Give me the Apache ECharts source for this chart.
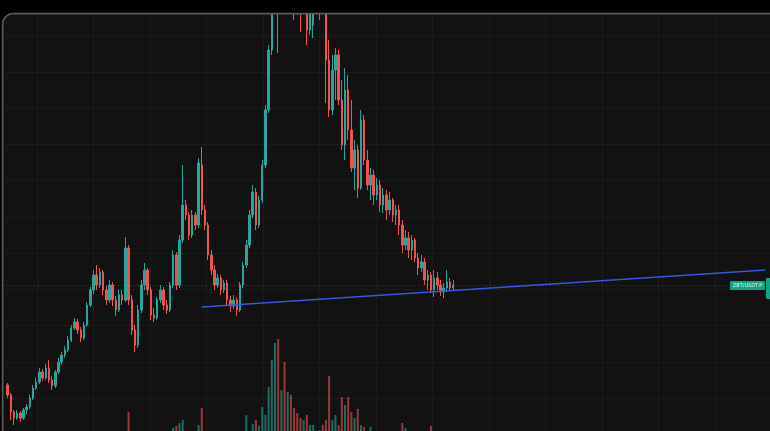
<!DOCTYPE html>
<html>
<head>
<meta charset="utf-8">
<script src="https://cdn.jsdelivr.net/npm/echarts@6/dist/echarts.min.js"></script>
<style>
html,body{margin:0;padding:0;background:#000;}
#chart{width:770px;height:431px;}
</style>
</head>
<body>
<div id="chart"></div>
<script>
// ---- data ----
// candle rows: [open, close, low, high]
const candles = [
[46,36,33,48],[36,19,11,38],[19,13,6,21],[13,18,11,21],[18,13,9,20],
[13,21,11,23],[21,24,17,27],[24,33,22,36],[33,43,31,46],[43,49,41,53],
[49,59,47,63],[59,53,50,62],[53,63,51,67],[63,51,48,71],[51,45,41,55],
[45,59,43,61],[59,69,57,73],[69,76,66,79],[76,81,73,85],[81,91,79,95],
[91,103,89,106],[103,109,101,113],[109,101,97,112],[101,93,89,104],[93,106,91,109],
[106,126,104,129],[126,141,124,144],[141,156,137,161],[156,146,141,166],[146,159,143,163],
[159,141,136,161],[141,131,126,145],[131,146,128,151],[146,131,125,149],[131,121,115,135],
[121,136,119,141],[136,131,126,141],[131,183,129,194],[183,131,126,186],[131,101,96,136],
[101,86,79,106],[86,121,83,126],[121,146,118,151],[146,161,141,168],[161,141,136,163],
[141,116,111,144],[116,113,109,123],[113,131,111,134],[131,141,128,146],[141,126,121,144],
[126,121,117,131],[121,146,119,149],[146,176,143,181],[176,146,141,179],[146,191,143,196],
[191,226,188,266],[226,216,211,231],[216,196,191,219],[196,216,193,221],[216,206,201,219],
[206,268,203,273],[266,221,216,284],[221,206,201,226],[206,176,171,209],[176,161,156,181],
[161,146,141,166],[146,153,143,157],[153,141,136,156],[141,148,138,151],[148,131,126,151],
[131,125,119,135],[125,131,122,136],[131,121,115,134],[121,146,119,149],[146,166,143,169],
[166,186,163,191],[186,216,183,221],[216,239,213,246],[239,206,201,243],[206,231,203,235],
[231,266,228,271],[266,321,263,326],[321,381,318,386],[381,441,376,461],[441,471,436,491],
[471,451,378,491],[451,481,446,501],[481,461,456,511],[461,491,456,521],[491,471,461,516],
[471,451,411,491],[451,441,416,471],[441,426,399,461],[426,461,421,481],[461,401,386,471],
[401,441,396,461],[406,461,393,481],[461,441,421,481],[441,471,411,491],[471,451,426,491],
[451,371,328,461],[371,321,314,391],[321,361,316,376],[361,376,331,383],[376,331,326,381],
[331,286,281,351],[286,341,271,363],[341,301,291,356],[301,263,259,331],[263,281,241,291],
[281,243,233,286],[243,311,241,321],[311,271,266,316],[271,246,241,281],[246,256,231,263],
[256,236,226,261],[236,246,231,253],[246,226,219,251],[226,236,218,243],[236,221,211,241],
[221,231,216,239],[231,216,209,233],[216,221,206,226],[221,206,196,226],[206,186,178,211],
[186,193,181,201],[193,181,173,199],[181,191,171,196],[191,173,169,193],[173,163,156,178],
[163,169,159,176],[169,151,146,173],[151,156,141,161],[156,141,138,159],[141,153,134,161],
[153,146,141,159],[146,139,135,151],[139,143,133,148],[143,149,139,161],[149,143,140,153],
[143,146,141,151]
];
const volumes = [
14,16,12,9,8,10,9,11,12,10,13,9,11,14,10,12,11,9,10,12,
14,11,10,12,11,15,14,16,13,12,14,11,10,12,13,11,12,17,38,16,
15,14,13,15,12,14,11,10,12,13,11,14,22,24,27,30,17,15,13,14,
25,42,18,16,15,13,12,14,12,13,14,12,16,15,17,35,18,26,30,24,
43,35,63,90,107,111,60,88,58,55,42,37,32,30,35,25,25,18,20,25,
30,74,30,35,25,53,45,53,38,32,41,25,23,17,23,16,15,14,13,14,
12,13,15,16,27,22,15,14,13,12,11,14,12,24,13,11,12,10,12,9,10
];
const slotCount = 240;
const categories = [];
for (let i = 0; i < slotCount; i++) categories.push('D' + (i + 1));
const trendLine = [[61, 124], [238, 161]];
const symbolLabel = 'ZBT/USDT.P';

const UP = '#26a69a', DOWN = '#ef5350';
const volData = volumes.map((v, i) => ({
  value: v,
  itemStyle: { color: candles[i][1] >= candles[i][0] ? 'rgba(38,166,154,0.62)' : 'rgba(239,83,80,0.62)' }
}));
const lastClose = candles[candles.length - 1][1];
const GRID_COLOR = '#1b1b1b';

const chart = echarts.init(document.getElementById('chart'), null, { renderer: 'canvas' });
chart.setOption({
  backgroundColor: '#000',
  animation: false,
  graphic: [
    { type: 'rect', z: -100, silent: true,
      shape: { x: 2.5, y: 13.5, width: 840, height: 480, r: 11 },
      style: { fill: '#121212', stroke: '#5c5c5c', lineWidth: 1.5 } },
    // mask above the panel and redraw top border over clipped candles
    { type: 'rect', z: 200, silent: true,
      shape: { x: 0, y: 0, width: 770, height: 13 },
      style: { fill: '#000' } },
    { type: 'rect', z: 200, silent: true,
      shape: { x: 0, y: 0, width: 2, height: 431 },
      style: { fill: '#000' } },
    { type: 'line', z: 201, silent: true,
      shape: { x1: 13, y1: 13.5, x2: 770, y2: 13.5 },
      style: { stroke: '#5c5c5c', lineWidth: 1.5 } },
    { type: 'line', z: 201, silent: true,
      shape: { x1: 2.5, y1: 24, x2: 2.5, y2: 431 },
      style: { stroke: '#5c5c5c', lineWidth: 1.5 } },
    { type: 'rect', z: 100, silent: true,
      shape: { x: 730, y: 281, width: 35, height: 9, r: 1 },
      style: { fill: '#13a386' } },
    { type: 'text', z: 101, silent: true, x: 747.5, y: 285.5,
      style: { text: symbolLabel, fill: '#e6fff7', font: '5px "DejaVu Sans"', align: 'center', verticalAlign: 'middle' } },
    { type: 'rect', z: 100, silent: true,
      shape: { x: 766, y: 278, width: 12, height: 21, r: 1 },
      style: { fill: '#13a386' } }
  ],
  grid: [
    { left: 6, right: 0, top: 14, height: 417 },
    { left: 6, right: 0, top: 330, height: 101 },
    { left: -19.5, width: 791, top: -0.475, height: 434.7, outerBoundsMode: 'none' }
  ],
  xAxis: [
    { type: 'category', gridIndex: 0, data: categories, boundaryGap: true,
      axisLine: { show: false }, axisTick: { show: false }, axisLabel: { show: false },
      splitLine: { show: false } },
    { type: 'category', gridIndex: 1, data: categories, boundaryGap: true,
      axisLine: { show: false }, axisTick: { show: false }, axisLabel: { show: false },
      splitLine: { show: false } },
    { type: 'value', gridIndex: 2, min: 0, max: 14, interval: 1,
      axisLine: { show: false }, axisTick: { show: false }, axisLabel: { show: false },
      splitLine: { show: true, lineStyle: { color: GRID_COLOR, width: 1 } } }
  ],
  yAxis: [
    { type: 'value', gridIndex: 0, min: 0, max: 417,
      axisLine: { show: false }, axisTick: { show: false }, axisLabel: { show: false },
      splitLine: { show: false } },
    { type: 'value', gridIndex: 1, min: 19, max: 120,
      axisLine: { show: false }, axisTick: { show: false }, axisLabel: { show: false },
      splitLine: { show: false } },
    { type: 'value', gridIndex: 2, min: 0, max: 12, interval: 1,
      axisLine: { show: false }, axisTick: { show: false }, axisLabel: { show: false },
      splitLine: { show: true, lineStyle: { color: GRID_COLOR, width: 1 } } }
  ],
  series: [
    { type: 'bar', xAxisIndex: 1, yAxisIndex: 1, data: volData, barWidth: '62%', clip: true, z: 1 },
    { type: 'candlestick', xAxisIndex: 0, yAxisIndex: 0, data: candles, barWidth: '62%', clip: true, z: 3,
      itemStyle: { color: UP, color0: DOWN, borderColor: UP, borderColor0: DOWN, borderWidth: 1 },
      markLine: {
        silent: true, symbol: 'none', label: { show: false },
        lineStyle: { color: 'rgba(160,160,160,0.35)', type: [1, 3], width: 1 },
        data: [{ yAxis: lastClose }]
      } },
    { type: 'line', xAxisIndex: 0, yAxisIndex: 0, data: trendLine, symbol: 'none', z: 5,
      lineStyle: { color: '#3558e0', width: 1.6 } }
  ]
});
</script>
</body>
</html>
